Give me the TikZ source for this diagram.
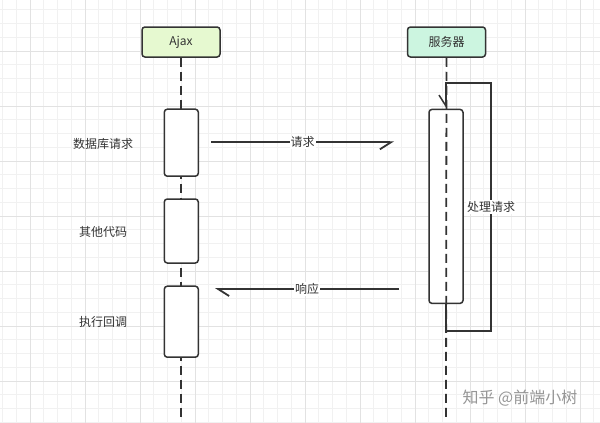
\documentclass[tikz,border=0pt]{standalone}
\usepackage{fontspec}
\setmainfont{Noto Sans CJK SC}
\usepackage{tikz}
\usepackage{xcolor}
\usetikzlibrary{positioning, arrows.meta}
\definecolor{seqline}{RGB}{51, 51, 51}
\definecolor{ajaxfill}{RGB}{230, 249, 208}
\definecolor{srvfill}{RGB}{204, 245, 224}
\definecolor{gridminor}{RGB}{241, 241, 241}
\definecolor{gridmajor}{RGB}{226, 226, 226}
\definecolor{wmgray}{RGB}{150, 150, 150}
\tikzset{
    headbox/.style={rectangle, rounded corners=3pt, draw=seqline, line width=1.5pt, minimum width=78pt, minimum height=30pt, text=seqline, font=\fontsize{12}{14}\selectfont},
    ajaxhead/.style={headbox, fill=ajaxfill},
    srvhead/.style={headbox, fill=srvfill},
    actbox/.style={rectangle, rounded corners=3pt, draw=seqline, line width=1.5pt, minimum width=34pt, fill=white},
    lifeline/.style={draw=seqline, line width=1.8pt, dash pattern=on 9pt off 5pt},
    msgline/.style={draw=seqline, line width=1.8pt},
    looppath/.style={draw=seqline, line width=1.5pt},
    steplabel/.style={text=seqline, font=\fontsize{12}{14}\selectfont},
    msglabel/.style={steplabel, fill=white, inner sep=1pt}
}

\begin{document}
\begin{tikzpicture}[x=1pt, y=-1pt]
                    % background and grid
                    \useasboundingbox[fill=white] (0,0) rectangle (600,423);
                    \foreach \gx in {2.5,16.25,...,600} \draw[gridminor, line width=0.6pt] (\gx,0) -- (\gx,423);
                    \foreach \gy in {-4,9.75,...,423} \draw[gridminor, line width=0.6pt] (0,\gy) -- (600,\gy);
                    \foreach \gx in {30,85,...,600} \draw[gridmajor, line width=0.8pt] (\gx,0) -- (\gx,423);
                    \foreach \gy in {51,106,...,423} \draw[gridmajor, line width=0.8pt] (0,\gy) -- (600,\gy);

                    % heads
                    \node[ajaxhead] (ajax) at (181,42) {Ajax};
                    \node[srvhead] (server) at (446.5,42) {服务器};
                    \coordinate (ajaxend) at (181,417);
                    \coordinate (srvend) at (446,417);

                    % ajax lifeline and activations
                    \draw[lifeline] (ajax.south) -- (ajaxend);
                    \node[actbox, minimum height=67pt] (dbact) at (181.3,142.7) {};
                    \node[actbox, minimum height=64pt] (otheract) at (181.3,231) {};
                    \node[actbox, minimum height=71pt] (cbact) at (181.3,321.7) {};
                    \node[steplabel] (dblabel) at (103,144) {数据库请求};
                    \node[steplabel] (otherlabel) at (103,231.5) {其他代码};
                    \node[steplabel] (cblabel) at (103,322) {执行回调};

                    % server lifeline and activation
                    \node[actbox, minimum height=194pt] (srvact) at (446,206.4) {};
                    \draw[lifeline] (server.south) -- (srvend);

                    % messages
                    \coordinate (reqstart) at (211,142.3);
                    \coordinate (reqend) at (394,142.3);
                    \coordinate (respstart) at (399,289);
                    \coordinate (respend) at (215,289);
                    \draw[msgline, -{Straight Barb[harpoon, swap, length=11pt, width=14pt]}] (reqstart) -- node[msglabel] {请求} (reqend);
                    \draw[msgline, -{Straight Barb[harpoon, length=11pt, width=14pt]}] (respstart) -- node[msglabel] {响应} (respend);

                    % self call
                    \coordinate (loopbl) at (446,331);
                    \coordinate (loopbr) at (491,331);
                    \coordinate (looptr) at (491,83);
                    \coordinate (looptl) at (446,83);
                    \draw[looppath, -{Straight Barb[harpoon, swap, length=11pt, width=14pt]}] (srvact.south) -- (loopbl) -- (loopbr) -- node[msglabel] {处理请求} (looptr) -- (looptl) -- (srvact.north);

                    % watermark
                    \node[text=wmgray, font=\fontsize{16}{18}\selectfont] (mark) at (520,398) {知乎 @前端小树};
                \end{tikzpicture}
\end{document}
